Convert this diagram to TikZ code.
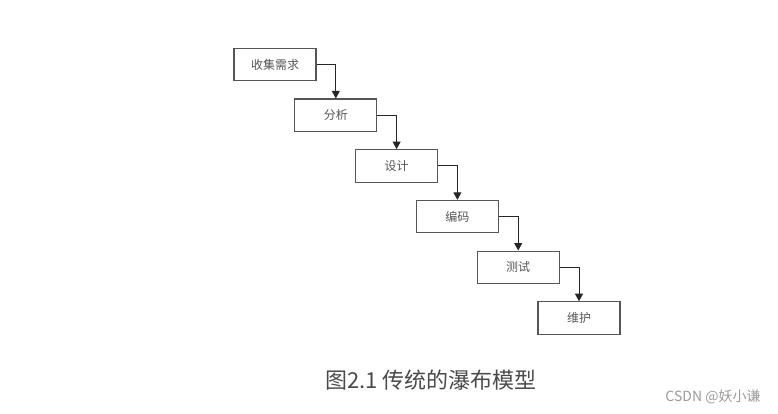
\documentclass[tikz,border=0pt]{standalone}
\usepackage{fontspec}
\newfontfamily\cjk{Noto Sans CJK SC}
\usetikzlibrary{arrows.meta,positioning}
\definecolor{boxgray}{HTML}{555555}
\definecolor{capgray}{HTML}{4A4A4A}
\definecolor{markgray}{HTML}{9A9A9A}

\begin{document}
\begin{tikzpicture}[
      stage/.style={draw=boxgray,line width=1.1pt,minimum width=82pt,minimum height=32.5pt,inner sep=0pt,font=\cjk\fontsize{12pt}{14pt}\selectfont,text=boxgray},
      flow/.style={draw=black!85,line width=0.9pt,-{Triangle[width=8pt,length=7.5pt]}},
      x=1pt,y=1pt
    ]
    \useasboundingbox (0,0) rectangle (778,-413);
    \node[stage] (s1) at (275,-64.5) {收集需求};
    \node[stage] (s2) at ([shift={(60.8,-50.7)}]s1) {分析};
    \node[stage] (s3) at ([shift={(60.8,-50.7)}]s2) {设计};
    \node[stage] (s4) at ([shift={(60.8,-50.7)}]s3) {编码};
    \node[stage] (s5) at ([shift={(60.8,-50.7)}]s4) {测试};
    \node[stage] (s6) at ([shift={(60.8,-50.7)}]s5) {维护};
    \draw[flow] (s1.east) -| (s2.north);
    \draw[flow] (s2.east) -| (s3.north);
    \draw[flow] (s3.east) -| (s4.north);
    \draw[flow] (s4.east) -| (s5.north);
    \draw[flow] (s5.east) -| (s6.north);
    \node[font=\cjk\fontsize{22pt}{25pt}\selectfont,text=capgray] (cap) at (431,-380) {图2.1 传统的瀑布模型};
    \node[font=\cjk\fontsize{14pt}{16pt}\selectfont,text=markgray] (mark) at (713,-397) {CSDN @妖小谦};
  \end{tikzpicture}
\end{document}
